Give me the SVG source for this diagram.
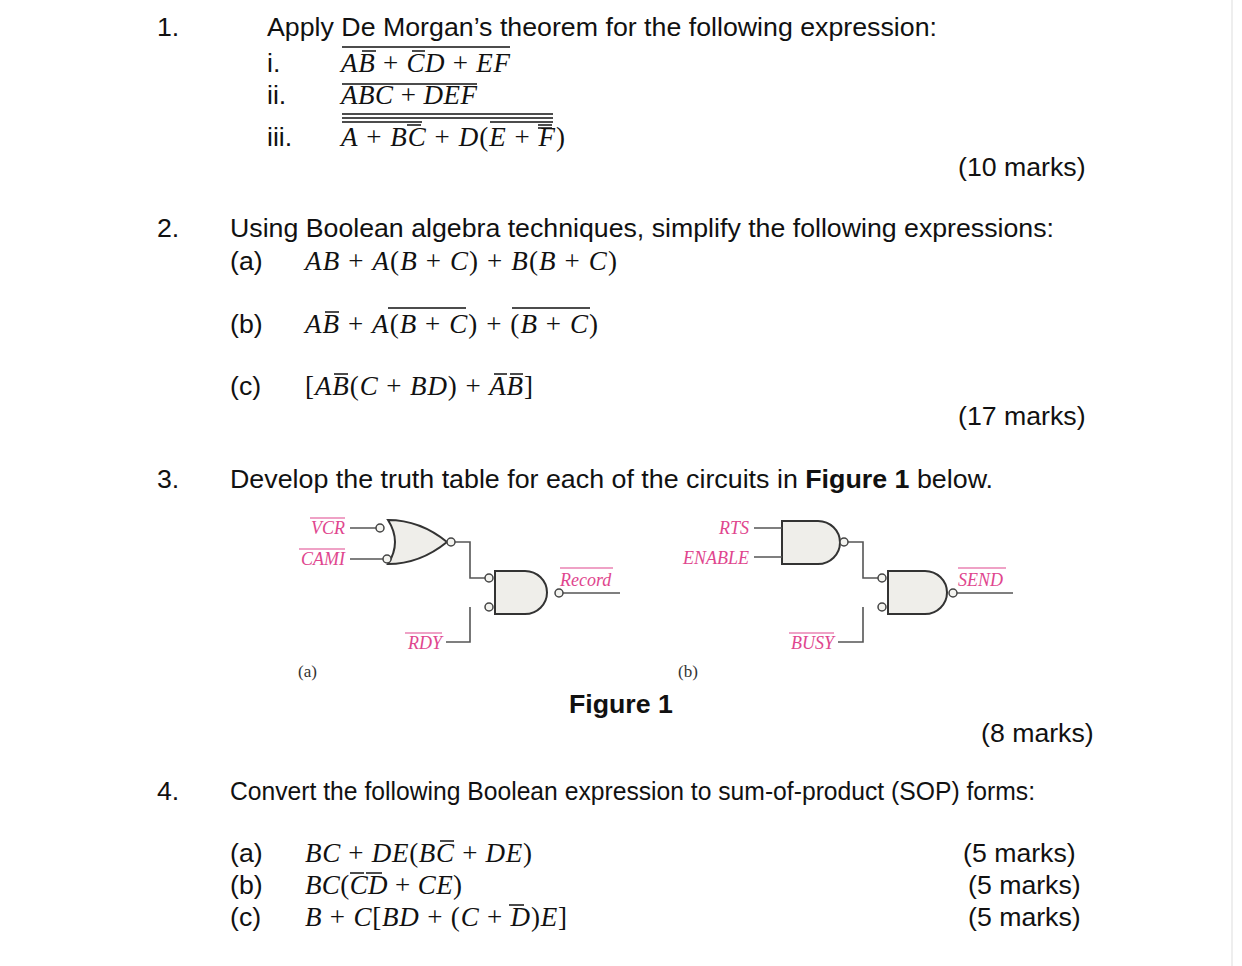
<svg xmlns="http://www.w3.org/2000/svg" width="1242" height="966" viewBox="0 0 1242 966">
<style>
.t{font-family:"Liberation Sans",Arial,sans-serif;font-size:26.7px;fill:#111}
.m{font-family:"Liberation Serif","Times New Roman",serif;font-style:italic;font-size:27px;fill:#111}
.mu{font-style:normal}
.o{stroke:#111;stroke-width:1.5;fill:none}
.p{font-family:"Liberation Serif","Times New Roman",serif;font-style:italic;font-size:18px;fill:#e0468e}
.po{stroke:#e0468e;stroke-width:1.2}
.w{stroke:#555;stroke-width:1.6;fill:none}
.g{fill:#efeeea;stroke:#333;stroke-width:2}
.b{fill:#f4f4f0;stroke:#444;stroke-width:1.5}
.s{font-family:"Liberation Serif",serif;font-size:17px;fill:#333}
</style>
<rect width="1242" height="966" fill="#fff"/>
<line x1="1232" y1="0" x2="1232" y2="966" stroke="#ddd"/>
<g id="q1">
<text class="t" x="157" y="36">1.</text>
<text class="t" x="267" y="36" textLength="670" lengthAdjust="spacingAndGlyphs">Apply De Morgan’s theorem for the following expression:</text>
<text class="t" x="267" y="72">i.</text>
<text class="m" x="341" y="72" textLength="169" lengthAdjust="spacing">AB<tspan class="mu"> + </tspan>CD<tspan class="mu"> + </tspan>EF</text>
<line class="o" x1="342" y1="47" x2="510" y2="47"/>
<line class="o" x1="362" y1="51" x2="376" y2="51"/>
<line class="o" x1="412" y1="51" x2="425" y2="51"/>
<text class="t" x="267" y="104">ii.</text>
<text class="m" x="341" y="104" textLength="136" lengthAdjust="spacing">ABC<tspan class="mu"> + </tspan>DEF</text>
<line class="o" x1="342" y1="84" x2="477" y2="84"/>
<text class="t" x="267" y="146">iii.</text>
<text class="m" x="341" y="146" textLength="224" lengthAdjust="spacing">A<tspan class="mu"> + </tspan>BC<tspan class="mu"> + </tspan>D<tspan class="mu">(</tspan>E<tspan class="mu"> + </tspan>F<tspan class="mu">)</tspan></text>
<line class="o" x1="342" y1="114" x2="553" y2="114"/>
<line class="o" x1="342" y1="118" x2="553" y2="118"/>
<line class="o" x1="342" y1="122" x2="422" y2="122"/>
<line class="o" x1="407" y1="125" x2="421" y2="125"/>
<line class="o" x1="490" y1="122" x2="553" y2="122"/>
<line class="o" x1="538" y1="125" x2="552" y2="125"/>
<line class="o" x1="538" y1="128" x2="552" y2="128"/>
<text class="t" x="958" y="176">(10 marks)</text>
</g>
<g id="q2">
<text class="t" x="157" y="237">2.</text>
<text class="t" x="230" y="237" textLength="824" lengthAdjust="spacingAndGlyphs">Using Boolean algebra techniques, simplify the following expressions:</text>
<text class="t" x="230" y="270">(a)</text>
<text class="m" x="305" y="270" textLength="312" lengthAdjust="spacing">AB<tspan class="mu"> + </tspan>A<tspan class="mu">(</tspan>B<tspan class="mu"> + </tspan>C<tspan class="mu">) + </tspan>B<tspan class="mu">(</tspan>B<tspan class="mu"> + </tspan>C<tspan class="mu">)</tspan></text>
<text class="t" x="230" y="333">(b)</text>
<text class="m" x="305" y="333" textLength="293" lengthAdjust="spacing">AB<tspan class="mu"> + </tspan>A<tspan class="mu">(</tspan>B<tspan class="mu"> + </tspan>C<tspan class="mu">) + (</tspan>B<tspan class="mu"> + </tspan>C<tspan class="mu">)</tspan></text>
<line class="o" x1="325" y1="312" x2="339" y2="312"/>
<line class="o" x1="388" y1="308" x2="466" y2="308"/>
<line class="o" x1="512" y1="308" x2="590" y2="308"/>
<text class="t" x="230" y="395">(c)</text>
<text class="m" x="305" y="395" textLength="228" lengthAdjust="spacing"><tspan class="mu">[</tspan>AB<tspan class="mu">(</tspan>C<tspan class="mu"> + </tspan>BD<tspan class="mu">) + </tspan>AB<tspan class="mu">]</tspan></text>
<line class="o" x1="334" y1="374" x2="348" y2="374"/>
<line class="o" x1="494" y1="374" x2="507" y2="374"/>
<line class="o" x1="510" y1="374" x2="523" y2="374"/>
<text class="t" x="958" y="425">(17 marks)</text>
</g>
<g id="q3">
<text class="t" x="157" y="488">3.</text>
<text class="t" x="230" y="488" textLength="763" lengthAdjust="spacingAndGlyphs">Develop the truth table for each of the circuits in <tspan font-weight="bold">Figure 1</tspan> below.</text>
</g>
<g id="circuitA">
<text class="p" x="345" y="534" text-anchor="end">VCR</text><line class="po" x1="310" y1="518" x2="345" y2="518"/>
<text class="p" x="345" y="565" text-anchor="end">CAMI</text><line class="po" x1="299" y1="549" x2="345" y2="549"/>
<path class="g" d="M388 520 Q420 520 447 542 Q420 564 388 564 Q402 542 388 520 Z"/>
<path class="g" d="M495 571 H525 A22 21.5 0 0 1 525 614 H495 Z"/>
<text class="p" x="560" y="586">Record</text><line class="po" x1="560" y1="568" x2="613" y2="568"/>
<text class="p" x="442" y="649" text-anchor="end">RDY</text><line class="po" x1="405" y1="633" x2="442" y2="633"/>
<text class="s" x="298" y="677">(a)</text>
</g>
<g id="circuitB">
<text class="p" x="749" y="534" text-anchor="end">RTS</text>
<text class="p" x="749" y="564" text-anchor="end">ENABLE</text>
<path class="g" d="M782 521 H818 A22 21.5 0 0 1 818 564 H782 Z"/>
<path class="g" d="M888 571 H925 A22 21.5 0 0 1 925 614 H888 Z"/>
<text class="p" x="958" y="586">SEND</text><line class="po" x1="958" y1="568" x2="1006" y2="568"/>
<text class="p" x="834" y="649" text-anchor="end">BUSY</text><line class="po" x1="789" y1="633" x2="834" y2="633"/>
<text class="s" x="678" y="677">(b)</text>
</g>
<g id="connectors">
<path class="w" d="M350 528 H376 M350 559 H384 M455 542 H470 V578 H485 M470 607 V642 H446 M563 593 H620"/>
<path class="w" d="M754 528 H782 M754 557 H782 M848 542 H863 V578 H878 M863 607 V642 H838 M957 593 H1013"/>
<circle class="b" cx="380" cy="528" r="4"/><circle class="b" cx="387" cy="559" r="4"/>
<circle class="b" cx="451" cy="542" r="4"/><circle class="b" cx="489" cy="578" r="4"/>
<circle class="b" cx="489" cy="607" r="4"/><circle class="b" cx="559" cy="593" r="4"/>
<circle class="b" cx="844" cy="542" r="4"/><circle class="b" cx="882" cy="578" r="4"/>
<circle class="b" cx="882" cy="607" r="4"/><circle class="b" cx="953" cy="593" r="4"/>
</g>
<text class="t" x="569" y="713" font-weight="bold">Figure 1</text>
<text class="t" x="981" y="742">(8 marks)</text>
<g id="q4">
<text class="t" x="157" y="800">4.</text>
<text class="t" x="230" y="800" textLength="805" lengthAdjust="spacingAndGlyphs">Convert the following Boolean expression to sum-of-product (SOP) forms:</text>
<text class="t" x="230" y="862">(a)</text>
<text class="m" x="305" y="862" textLength="227" lengthAdjust="spacing">BC<tspan class="mu"> + </tspan>DE<tspan class="mu">(</tspan>BC<tspan class="mu"> + </tspan>DE<tspan class="mu">)</tspan></text>
<line class="o" x1="440" y1="841" x2="454" y2="841"/>
<text class="t" x="230" y="894">(b)</text>
<text class="m" x="305" y="894" textLength="157" lengthAdjust="spacing">BC<tspan class="mu">(</tspan>CD<tspan class="mu"> + </tspan>CE<tspan class="mu">)</tspan></text>
<line class="o" x1="350" y1="873" x2="364" y2="873"/>
<line class="o" x1="366" y1="873" x2="382" y2="873"/>
<text class="t" x="230" y="926">(c)</text>
<text class="m" x="305" y="926" textLength="262" lengthAdjust="spacing">B<tspan class="mu"> + </tspan>C<tspan class="mu">[</tspan>BD<tspan class="mu"> + (</tspan>C<tspan class="mu"> + </tspan>D<tspan class="mu">)</tspan>E<tspan class="mu">]</tspan></text>
<line class="o" x1="509" y1="905" x2="524" y2="905"/>
<text class="t" x="963" y="862">(5 marks)</text>
<text class="t" x="968" y="894">(5 marks)</text>
<text class="t" x="968" y="926">(5 marks)</text>
</g>
</svg>
